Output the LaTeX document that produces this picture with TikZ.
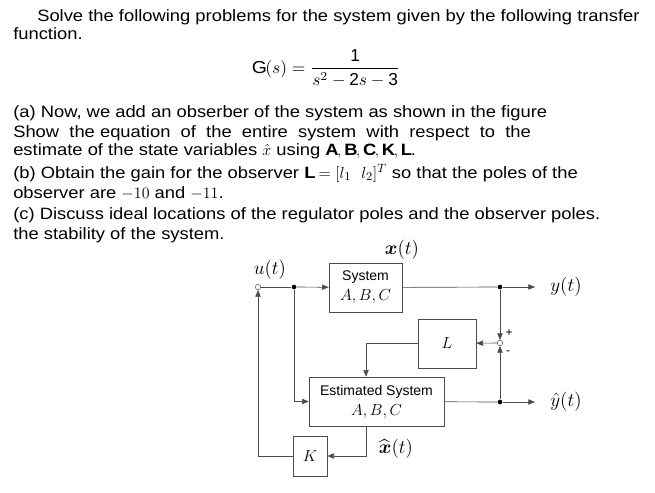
\documentclass[tikz,border=0pt]{standalone}
\usepackage{fontspec}
\usepackage{amsmath}
\setmainfont{Liberation Sans}[FakeStretch=1.12]
\newfontfamily\blkfont{Liberation Sans}
\usetikzlibrary{arrows.meta}
\begin{document}
\begin{tikzpicture}[x=0.75pt,y=-0.75pt,
  blk/.style={draw=black!70,line width=0.5pt,inner sep=0pt,font=\blkfont\fontsize{10.5}{15}\selectfont,align=center},
  wire/.style={draw=black!70,line width=0.5pt},
  arr/.style={wire,-{Triangle[length=5pt,width=4pt]}},
  dotn/.style={circle,fill=black,inner sep=0pt,minimum size=3.5pt},
  ocirc/.style={circle,draw=black!70,fill=white,inner sep=0pt,minimum size=4pt},
  txt/.style={anchor=west,inner sep=0pt,font=\fontsize{12.3}{14}\selectfont},
  lbl/.style={inner sep=0pt,font=\fontsize{14}{16}\selectfont}]
\useasboundingbox (0,0) rectangle (655,492);
% text
\node[txt] (t1) at (37,17) {Solve the following problems for the system given by the following transfer};
\node[txt] (t2) at (13,34) {function.};
\node[inner sep=0pt,scale=1.3] (eq) at (326,68) {$\mathrm{G}(s)=\dfrac{\textsf{\blkfont 1}}{s^2-\textsf{\blkfont 2}s-\textsf{\blkfont 3}}$};
\node[txt] (t4) at (13,113) {(a) Now, we add an obserber of the system as shown in the figure};
\node[txt] (t5) at (13,133) {Show\ \ the equation\ \ of\ \ the\ \ entire\ \ system\ \ with\ \ respect\ \ to\ \ the};
\node[txt] (t6) at (13,151) {estimate of the state variables $\hat{x}$ using $\mathbf{A},\mathbf{B},\mathbf{C},\mathbf{K},\mathbf{L}$.};
\node[txt] (t7) at (13,173) {(b) Obtain the gain for the observer $\mathbf{L}=[l_1\ \ l_2]^T$ so that the poles of the};
\node[txt] (t8) at (13,193) {observer are $-10$ and $-11$.};
\node[txt] (t9) at (13,215) {(c) Discuss ideal locations of the regulator poles and the observer poles.};
\node[txt] (t10) at (13,235) {the stability of the system.};
% blocks
\node[blk,minimum width=73*0.75pt,minimum height=49*0.75pt] (sys) at (365.5,287.5) {System\\ {\large$A,B,C$}};
\node[blk,minimum width=58*0.75pt,minimum height=49*0.75pt] (L) at (447,343.5) {\large$L$};
\node[blk,minimum width=135*0.75pt,minimum height=49*0.75pt] (est) at (376.5,401.5) {Estimated System\\ {\large$A,B,C$}};
\node[blk,minimum width=34*0.75pt,minimum height=40*0.75pt] (K) at (310,456) {\large$K$};
% points
\node[ocirc] (u) at (258,287) {};
\node[dotn] (j1) at (294,287) {};
\node[dotn] (jy) at (500,287) {};
\node[dotn] (jyh) at (500,402) {};
\node[ocirc] (cmp) at (500,343) {};
\coordinate (yend) at (535,287);
\coordinate (yhend) at (535,402);
% labels
\node[lbl] (ul) at (270,270) {$u(t)$};
\node[lbl] (xl) at (402,250) {$\boldsymbol{x}(t)$};
\node[lbl] (yl) at (566,287) {$y(t)$};
\node[lbl] (yhl) at (566,402) {$\hat{y}(t)$};
\node[lbl] (xhl) at (396,449) {$\widehat{\boldsymbol{x}}(t)$};
\node[font=\blkfont\small,inner sep=0pt] (pl) at (509,333) {+};
\node[font=\blkfont\small,inner sep=0pt] (ml) at (508,353) {-};
% wires
\draw[wire] (u) -- (j1);
\draw[arr] (j1) -- (sys);
\draw[wire] (sys) -- (jy);
\draw[arr] (jy) -- (yend);
\draw[arr] (jy) -- (cmp);
\draw[arr] (jyh) -- (cmp);
\draw[arr] (cmp) -- (L);
\draw[arr] (L.west) -| (est.north -| 366,0);
\draw[arr] (j1) |- (est.west);
\draw[wire] (est) -- (jyh);
\draw[arr] (jyh) -- (yhend);
\draw[arr] (est.south -| 366,0) |- (K.east);
\draw[arr] (K.west) -| (u);
\end{tikzpicture}
\end{document}
